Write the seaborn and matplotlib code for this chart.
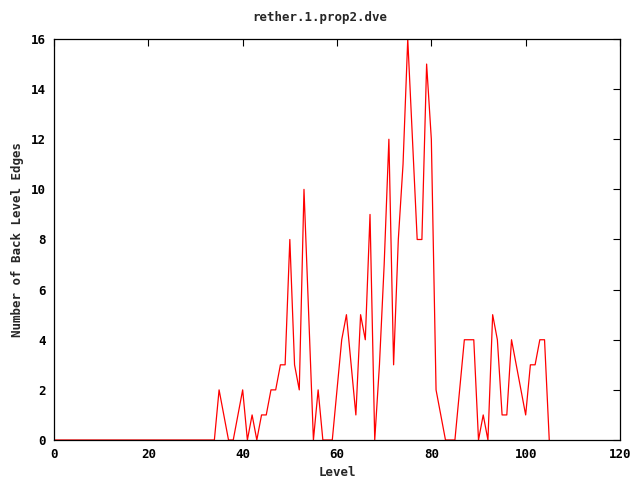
import matplotlib
matplotlib.use("Agg")
import matplotlib.pyplot as plt
import seaborn as sns
import pandas as pd

levels = list(range(0, 106))
edges = [0, 0, 0, 0, 0, 0, 0, 0, 0, 0,
         0, 0, 0, 0, 0, 0, 0, 0, 0, 0,
         0, 0, 0, 0, 0, 0, 0, 0, 0, 0,
         0, 0, 0, 0, 0, 2, 1, 0, 0, 1,
         2, 0, 1, 0, 1, 1, 2, 2, 3, 3,
         8, 3, 2, 10, 5, 0, 2, 0, 0, 0,
         2, 4, 5, 3, 1, 5, 4, 9, 0, 3,
         7, 12, 3, 8, 11, 16, 12, 8, 8, 15,
         12, 2, 1, 0, 0, 0, 2, 4, 4, 4,
         0, 1, 0, 5, 4, 1, 1, 4, 3, 2,
         1, 3, 3, 4, 4, 0]

x_ticks = [0, 20, 40, 60, 80, 100, 120]
y_ticks = [0, 2, 4, 6, 8, 10, 12, 14, 16]
title = "rether.1.prop2.dve"
x_label = "Level"
y_label = "Number of Back Level Edges"

df = pd.DataFrame({"Level": levels, "Edges": edges})

sns.set_theme(style="white")
plt.rcParams['font.family'] = ['DejaVu Sans Mono']
plt.rcParams['font.weight'] = 'bold'

fig = plt.figure(figsize=(6.4, 4.8), dpi=100)
ax = fig.add_axes([54 / 640, 40 / 480, 566 / 640, 401 / 480])

sns.lineplot(data=df, x="Level", y="Edges", ax=ax, color="#ff0000",
             linewidth=0.9, zorder=1)

ax.set_xlim(0, 120)
ax.set_ylim(0, 16)
ax.set_xticks(x_ticks)
ax.set_yticks(y_ticks)
ax.tick_params(direction="in", length=5, width=0.8, top=True, right=True,
               labelsize=9, colors="black", pad=6)
for lab in ax.get_xticklabels() + ax.get_yticklabels():
    lab.set_fontweight("bold")
for s in ax.spines.values():
    s.set_visible(True)
    s.set_color("black")
    s.set_linewidth(0.9)

ax.set_xlabel(x_label, fontsize=9, fontweight="bold", labelpad=3)
ax.set_ylabel(y_label, fontsize=9, fontweight="bold", labelpad=5)
fig.text(0.5, 1 - 18 / 480, title, ha="center", va="center",
         fontsize=9, fontweight="bold")

fig.savefig("out.png", dpi=100, facecolor="white")
